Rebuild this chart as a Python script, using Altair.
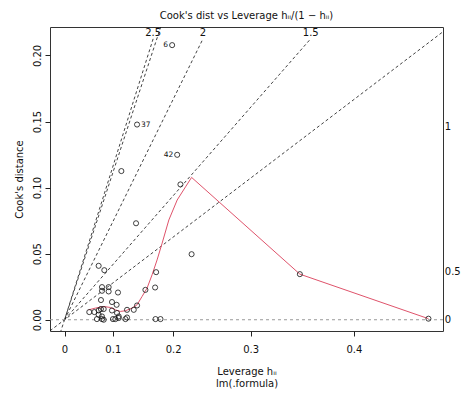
import altair as alt
import pandas as pd

# ---------------- data ----------------
# leverage h_ii and Cook's distance of each observation
lev = [0.1986, 0.1431, 0.2060, 0.1157, 0.2107, 0.1414, 0.2264, 0.0728, 0.0839, 0.1742,
       0.0794, 0.0922, 0.0794, 0.0922, 0.1096, 0.1570, 0.1726, 0.0774, 0.0985, 0.1071,
       0.1431, 0.0539, 0.0642, 0.0728, 0.0773, 0.0827, 0.0985, 0.1078, 0.1258, 0.1375,
       0.0728, 0.0793, 0.1109, 0.1258, 0.0694, 0.0793, 0.0827, 0.1003, 0.1048, 0.1109,
       0.1230, 0.1732, 0.1810, 0.3515, 0.4560]
cook = [0.2078, 0.1477, 0.1248, 0.1125, 0.1024, 0.0730, 0.0496, 0.0408, 0.0375, 0.0360,
        0.0247, 0.0247, 0.0219, 0.0214, 0.0206, 0.0226, 0.0244, 0.0149, 0.0134, 0.0113,
        0.0108, 0.0058, 0.0058, 0.0070, 0.0081, 0.0081, 0.0070, 0.0051, 0.0075, 0.0075,
        0.0038, 0.0025, 0.0025, 0.0017, 0.0005, 0.0005, 0.0000, 0.0005, 0.0005, 0.0013,
        0.0005, 0.0005, 0.0005, 0.0345, 0.0008]
obs_id = ["6", "37", "42"] + [""] * 42

# smoother (red line)
smooth_lev = [0.0525, 0.0662, 0.0827, 0.0954, 0.1048, 0.1139, 0.1230, 0.1345, 0.1431, 0.1515,
              0.1597, 0.1678, 0.1757, 0.1835, 0.1937, 0.2060, 0.2180, 0.2264, 0.3515, 0.4560]
smooth_cook = [0.0075, 0.0088, 0.0100, 0.0093, 0.0075, 0.0063, 0.0068, 0.0088, 0.0113, 0.0176,
               0.0239, 0.0340, 0.0453, 0.0579, 0.0755, 0.0906, 0.1006, 0.1077, 0.0345, 0.0008]

# contour levels of standardized residual
contour_b = [0, 0.5, 1, 1.5, 2, 2.5]
contour_lab = ["0", "0.5", "1", "1.5", "2", "2.5"]
n_coef = 6

lev_ticks = [0, 0.1, 0.2, 0.3, 0.4]
cook_ticks = [0, 0.05, 0.10, 0.15, 0.20]

FONT = "DejaVu Sans"

# ---------------- derived tables ----------------
g = [h / (1 - h) for h in lev]
pts = pd.DataFrame({"g": g, "cook": cook, "id": obs_id})
smooth = pd.DataFrame({"g": [h / (1 - h) for h in smooth_lev], "cook": smooth_cook})

gmax = max(g)
ymx = max(cook) * 1.025
xmin, xmax = -0.04 * gmax, 1.04 * gmax
ymin, ymax = -0.04 * ymx, 1.04 * ymx
strh = 0.0257 * (ymax - ymin)
strw = 0.0045 * (xmax - xmin)

lab = pts[pts["id"] != ""].copy()
mid = (lab["g"].min() + lab["g"].max()) / 2
lab_left = lab[lab["g"] > mid]
lab_right = lab[lab["g"] <= mid]

# same construction as R's plot.lm (which = 6), abline slope included
line_rows, top_labs, right_labs = [], [], []
for i, (b, t) in enumerate(zip(contour_b, contour_lab)):
    b2 = b * b
    if n_coef * ymax > b2 * xmax:
        xi = xmax + strw
        if b > 0:
            line_rows += [{"k": i, "g": xmin, "cook": b2 * xmin},
                          {"k": i, "g": xmax, "cook": b2 * xmax}]
        right_labs.append({"g": xi, "cook": b2 * xi / n_coef, "t": t})
    else:
        yi = ymax - 1.5 * strh
        xi = n_coef * yi / b2
        line_rows += [{"k": i, "g": 0, "cook": 0}, {"k": i, "g": xi, "cook": yi}]
        top_labs.append({"g": xi, "cook": ymax - 0.8 * strh, "t": t})
lines = pd.DataFrame(line_rows)
top_df = pd.DataFrame(top_labs)
right_df = pd.DataFrame(right_labs)

g_ticks = [h / (1 - h) for h in lev_ticks]

xscale = alt.Scale(domain=[xmin, xmax], nice=False, zero=False)
yscale = alt.Scale(domain=[ymin, ymax], nice=False, zero=False)

xaxis = alt.Axis(values=g_ticks,
                 labelExpr="format(datum.value/(1+datum.value), '.1~f')",
                 title=["Leverage  h\u1d62\u1d62", "lm(.formula)"],
                 titleLineHeight=12, titlePadding=12,
                 grid=False, domain=False, tickSize=5, tickColor="#222",
                 labelPadding=8, labelFontSize=10, titleFontSize=10,
                 titleFontWeight="normal", labelFont=FONT, titleFont=FONT,
                 labelColor="#111", titleColor="#111")
yaxis = alt.Axis(values=cook_ticks, format=".2f", title="Cook's distance",
                 grid=False, domain=False, tickSize=5, tickColor="#222",
                 labelAngle=270, labelAlign="center", labelBaseline="bottom",
                 labelPadding=3, titlePadding=8,
                 labelFontSize=10, titleFontSize=10, titleFontWeight="normal",
                 labelFont=FONT, titleFont=FONT, labelColor="#111", titleColor="#111")


def X():
    return alt.X("g:Q", scale=xscale, axis=xaxis)


def Y():
    return alt.Y("cook:Q", scale=yscale, axis=yaxis)


contours = alt.Chart(lines).mark_line(
    color="#111", strokeDash=[3, 2.5], strokeWidth=0.8, clip=True
).encode(x=X(), y=Y(), detail="k:N")

zero = alt.Chart(pd.DataFrame({"cook": [0]})).mark_rule(
    color="#999", strokeDash=[3, 3], strokeWidth=1
).encode(y=Y())

red = alt.Chart(smooth).mark_line(color="#DF536B", strokeWidth=1, clip=True).encode(x=X(), y=Y())

points = alt.Chart(pts).mark_point(
    shape="circle", filled=False, color="#111", size=26, strokeWidth=0.8, opacity=1
).encode(x=X(), y=Y())

idl = alt.Chart(lab_left).mark_text(
    align="right", baseline="middle", dx=-4, fontSize=7.5, font=FONT, color="#111"
).encode(x=X(), y=Y(), text="id:N")
idr = alt.Chart(lab_right).mark_text(
    align="left", baseline="middle", dx=4, fontSize=7.5, font=FONT, color="#111"
).encode(x=X(), y=Y(), text="id:N")

toplab = alt.Chart(top_df).mark_text(
    align="center", baseline="middle", fontSize=10, font=FONT, color="#111"
).encode(x=X(), y=Y(), text="t:N")
rightlab = alt.Chart(right_df).mark_text(
    align="left", baseline="middle", fontSize=10, font=FONT, color="#111"
).encode(x=X(), y=Y(), text="t:N")

chart = alt.layer(contours, zero, red, points, idl, idr, toplab, rightlab).properties(
    width=393, height=304,
    title=alt.TitleParams(text="Cook's dist vs Leverage  h\u1d62\u1d62/(1 \u2212 h\u1d62\u1d62)",
                          fontSize=10, fontWeight="normal", font=FONT, color="#111",
                          anchor="middle", offset=6),
    autosize=alt.AutoSizeParams(type="none"),
    padding={"left": 42, "top": 19, "right": 23, "bottom": 62},
).configure_view(stroke="#333", strokeWidth=1)

chart.save("out.html", embed_options={"renderer": "svg", "actions": False})
